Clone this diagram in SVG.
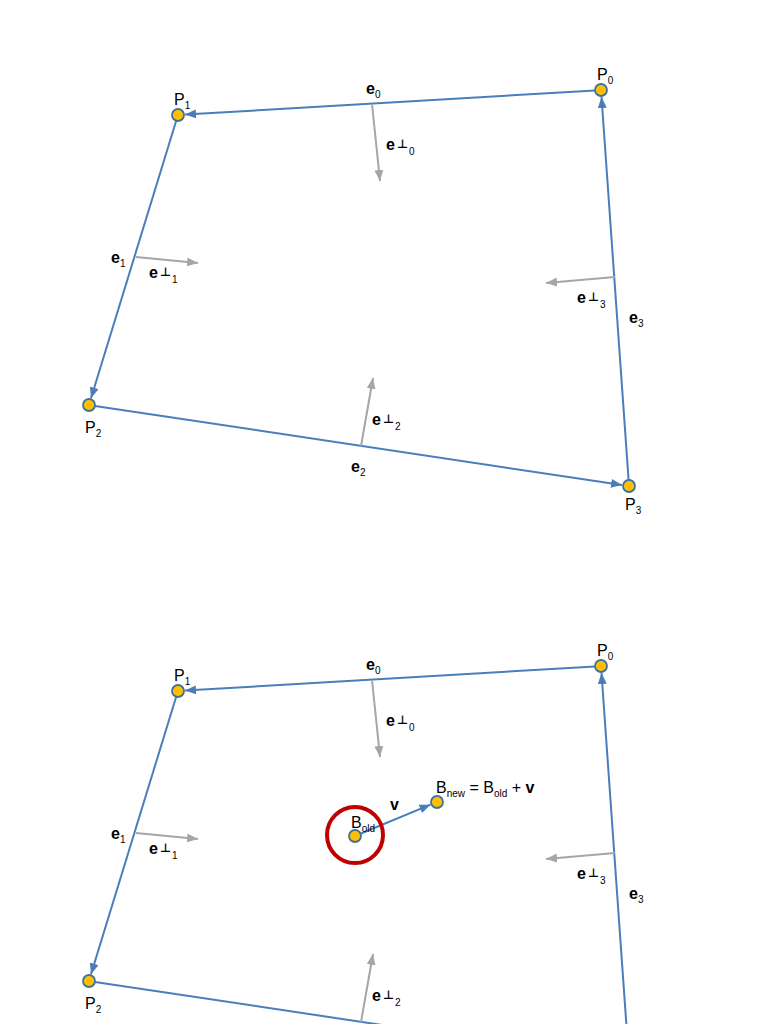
<svg xmlns="http://www.w3.org/2000/svg" width="768" height="1024" viewBox="0 0 768 1024">
<defs>
<style>
.edge{stroke:#4A7EBB;stroke-width:2;fill:none;marker-end:url(#ab)}
.norm{stroke:#A6A6A6;stroke-width:2;fill:none;marker-end:url(#ag)}
.pt{fill:#FFC000;stroke:#41719C;stroke-width:1.8}
.lbl{font-family:"Liberation Sans",Arial,sans-serif;font-size:16px;fill:#000}
.eb{font-family:"Liberation Sans",Arial,sans-serif;font-size:16px;font-weight:bold;fill:#000}
.sub{font-size:10px;font-weight:normal}
.perp{font-family:"DejaVu Sans",sans-serif;font-size:12px;font-weight:bold}
</style>
<marker id="ab" markerUnits="userSpaceOnUse" markerWidth="12" markerHeight="10" refX="11" refY="4.5" orient="auto"><path d="M0,0 L11,4.5 L0,9 z" fill="#4A7EBB"/></marker>
<marker id="ag" markerUnits="userSpaceOnUse" markerWidth="12" markerHeight="10" refX="11" refY="4.5" orient="auto"><path d="M0,0 L11,4.5 L0,9 z" fill="#A6A6A6"/></marker>
</defs>
<rect width="768" height="1024" fill="#fff"/>

<!-- TOP DIAGRAM -->
<g id="top-connectors">
<line class="edge" x1="595" y1="90.4" x2="185" y2="114.6"/>
<line class="edge" x1="176.2" y1="120.7" x2="91" y2="398.3"/>
<line class="edge" x1="95" y1="405.9" x2="622" y2="485"/>
<line class="edge" x1="628.6" y1="480" x2="601.5" y2="97"/>
<line class="norm" x1="372" y1="104" x2="380" y2="181"/>
<line class="norm" x1="136" y1="257" x2="198" y2="263"/>
<line class="norm" x1="361" y1="446" x2="373" y2="378"/>
<line class="norm" x1="615" y1="277" x2="546" y2="283"/>
</g>
<g id="top-P0"><circle class="pt" cx="601" cy="90" r="6"/><text class="lbl" x="597" y="80">P<tspan class="sub" dy="4">0</tspan></text></g>
<g id="top-P1"><circle class="pt" cx="178" cy="115" r="6"/><text class="lbl" x="174" y="105">P<tspan class="sub" dy="4">1</tspan></text></g>
<g id="top-P2"><circle class="pt" cx="89" cy="405" r="6"/><text class="lbl" x="85" y="433">P<tspan class="sub" dy="4">2</tspan></text></g>
<g id="top-P3"><circle class="pt" cx="629" cy="486" r="6"/><text class="lbl" x="625" y="510">P<tspan class="sub" dy="4">3</tspan></text></g>
<g id="top-labels">
<text class="eb" x="366" y="94">e<tspan class="sub" dy="4">0</tspan></text>
<text class="eb" x="386" y="150">e<tspan class="perp" dx="2" dy="-2">⊥</tspan><tspan class="sub" dx="1" dy="7">0</tspan></text>
<text class="eb" x="111" y="263">e<tspan class="sub" dy="4">1</tspan></text>
<text class="eb" x="149" y="278">e<tspan class="perp" dx="2" dy="-2">⊥</tspan><tspan class="sub" dx="1" dy="7">1</tspan></text>
<text class="eb" x="577" y="303">e<tspan class="perp" dx="2" dy="-2">⊥</tspan><tspan class="sub" dx="1" dy="7">3</tspan></text>
<text class="eb" x="629" y="323">e<tspan class="sub" dy="4">3</tspan></text>
<text class="eb" x="372" y="425">e<tspan class="perp" dx="2" dy="-2">⊥</tspan><tspan class="sub" dx="1" dy="7">2</tspan></text>
<text class="eb" x="351" y="472">e<tspan class="sub" dy="4">2</tspan></text>
</g>

<!-- BOTTOM DIAGRAM -->
<g id="bottom-connectors">
<line class="edge" x1="595" y1="666.4" x2="185" y2="690.6"/>
<line class="edge" x1="176.2" y1="696.7" x2="91" y2="974.3"/>
<line class="edge" x1="95" y1="981.9" x2="622" y2="1061"/>
<line class="edge" x1="628.6" y1="1056" x2="601.5" y2="673"/>
<line class="norm" x1="372" y1="680" x2="380" y2="757"/>
<line class="norm" x1="136" y1="833" x2="198" y2="839"/>
<line class="norm" x1="361" y1="1022" x2="373" y2="954"/>
<line class="norm" x1="615" y1="853" x2="546" y2="859"/>
<line id="v-arrow" class="edge" x1="361" y1="833.5" x2="430.5" y2="804.7"/>
</g>
<g id="bottom-P0"><circle class="pt" cx="601" cy="666" r="6"/><text class="lbl" x="597" y="656">P<tspan class="sub" dy="4">0</tspan></text></g>
<g id="bottom-P1"><circle class="pt" cx="178" cy="691" r="6"/><text class="lbl" x="174" y="681">P<tspan class="sub" dy="4">1</tspan></text></g>
<g id="bottom-P2"><circle class="pt" cx="89" cy="981" r="6"/><text class="lbl" x="85" y="1009">P<tspan class="sub" dy="4">2</tspan></text></g>
<g id="bottom-P3"><circle class="pt" cx="629" cy="1062" r="6"/></g>
<g id="B-old">
<circle cx="355" cy="835" r="28" fill="none" stroke="#C00000" stroke-width="4"/>
<circle class="pt" cx="355" cy="836" r="6"/>
<text class="lbl" x="351" y="828">B<tspan class="sub" dy="4">old</tspan></text>
</g>
<g id="B-new">
<circle class="pt" cx="437" cy="802" r="6"/>
<text class="lbl" x="436" y="793">B<tspan class="sub" dy="4">new</tspan><tspan dy="-4"> = B</tspan><tspan class="sub" dy="4">old</tspan><tspan dy="-4"> + </tspan><tspan font-weight="bold">v</tspan></text>
</g>
<g id="bottom-labels">
<text class="eb" x="390" y="810">v</text>
<text class="eb" x="366" y="670">e<tspan class="sub" dy="4">0</tspan></text>
<text class="eb" x="386" y="726">e<tspan class="perp" dx="2" dy="-2">⊥</tspan><tspan class="sub" dx="1" dy="7">0</tspan></text>
<text class="eb" x="111" y="839">e<tspan class="sub" dy="4">1</tspan></text>
<text class="eb" x="149" y="854">e<tspan class="perp" dx="2" dy="-2">⊥</tspan><tspan class="sub" dx="1" dy="7">1</tspan></text>
<text class="eb" x="577" y="879">e<tspan class="perp" dx="2" dy="-2">⊥</tspan><tspan class="sub" dx="1" dy="7">3</tspan></text>
<text class="eb" x="629" y="899">e<tspan class="sub" dy="4">3</tspan></text>
<text class="eb" x="372" y="1001">e<tspan class="perp" dx="2" dy="-2">⊥</tspan><tspan class="sub" dx="1" dy="7">2</tspan></text>
</g>
</svg>
